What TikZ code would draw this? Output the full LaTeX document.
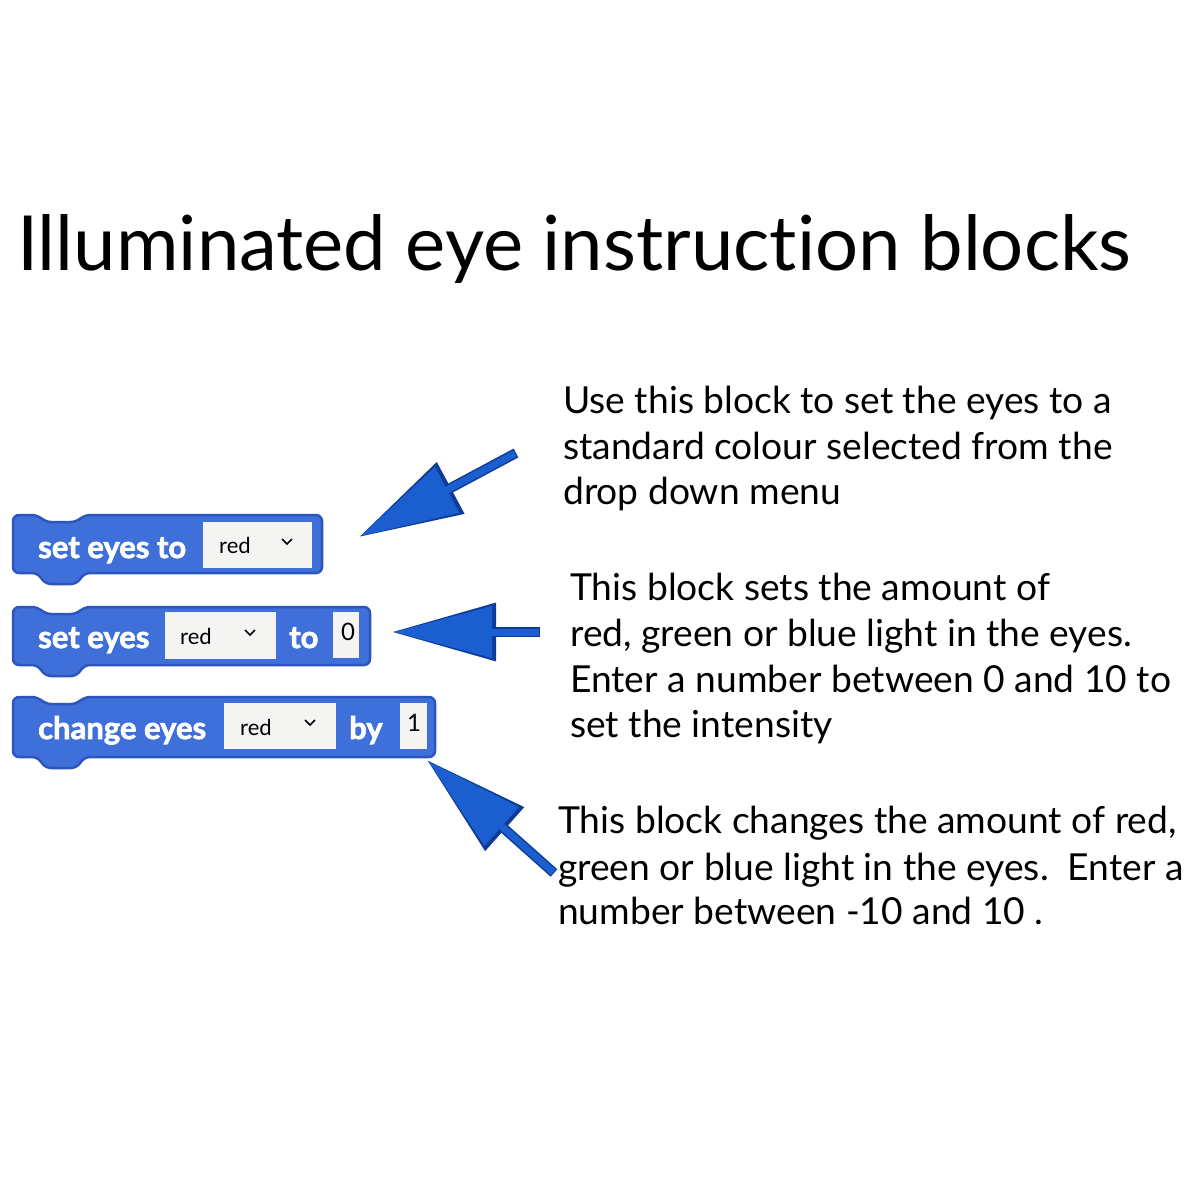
\documentclass[tikz,border=0pt]{standalone}
\usepackage{fontspec}
\setmainfont{Lato}[Ligatures=NoCommon]
\newfontfamily\blkfont{Lato}[FakeBold=2.2]
\usetikzlibrary{arrows.meta}
\definecolor{blkblue}{HTML}{3F6FD8}
\definecolor{blkedge}{HTML}{2C56BE}
\definecolor{arrblue}{HTML}{1A5ED0}
\definecolor{arrdark}{HTML}{0E3C94}
\definecolor{ddfill}{HTML}{F4F4F2}
\tikzset{
  title/.style={font=\fontsize{76}{90}\selectfont, anchor=base west, inner sep=0},
  desc/.style={font=\fontsize{37.2}{46}\selectfont, anchor=base west, inner sep=0},
  blklabel/.style={font=\blkfont\fontsize{31}{36}\selectfont\bfseries, text=white, anchor=base west, inner sep=0},
  ddlabel/.style={font=\fontsize{22}{26}\selectfont, text=black, anchor=base west, inner sep=0},
  numlabel/.style={font=\fontsize{24}{28}\selectfont, text=black, anchor=base west, inner sep=0},
  blockshape/.style={fill=blkblue, draw=blkedge, line width=2.5pt, rounded corners=6pt},
  ddbox/.style={fill=ddfill, draw=none},
  chev/.style={draw=black, line width=1.6pt},
  arrout/.style={draw=arrdark, line width=10pt, -{Triangle[length=104pt, width=56pt]}},
  arrin/.style={draw=arrblue, line width=7pt, -{Triangle[length=98pt, width=50pt]}},
}
\newcommand{\scrblock}[5]{% name, x0, top, x1, bot
  \path[blockshape] (#2,#3+20) -- (#2,#3) -- (#2+25,#3) -- (#2+32,#3+7) -- (#2+64,#3+7) -- (#2+71,#3)
    -- (#4,#3) -- (#4,#5) -- (#2+71,#5) -- (#2+64,#5+11) -- (#2+32,#5+11) -- (#2+25,#5) -- (#2,#5) -- cycle;
  \coordinate (#1) at (#4,{(#3+#5)/2});
}
\begin{document}
\begin{tikzpicture}[x=1pt,y=-1pt]
\useasboundingbox[fill=white] (0,0) rectangle (1200,1200);

\node[title] (ttl) at (17,270) {Illuminated eye instruction blocks};

% blocks
\scrblock{b1}{13}{515}{322}{573}
\scrblock{b2}{13}{607}{370}{665}
\scrblock{b3}{13}{697}{435}{757}

% block 1
\node[blklabel] (l1) at (38,558) {set eyes to};
\path[ddbox] (203,522) rectangle (312,568);
\node[ddlabel] (d1) at (219,553) {red};
\draw[chev] (282,539) -- (287,544) -- (292,539);

% block 2
\node[blklabel] (l2) at (38,648) {set eyes};
\path[ddbox] (165,612) rectangle (276,659);
\node[ddlabel] (d2) at (180,644) {red};
\draw[chev] (245,630) -- (250,635) -- (255,630);
\node[blklabel] (l2b) at (289,648) {to};
\path[ddbox] (333,612) rectangle (359,658);
\node[numlabel] (n2) at (341,640) {0};

% block 3
\node[blklabel] (l3) at (38,739) {change eyes};
\path[ddbox] (224,703) rectangle (336,749);
\node[ddlabel] (d3) at (240,735) {red};
\draw[chev] (305,720) -- (310,725) -- (315,720);
\node[blklabel] (l3b) at (349,739) {by};
\path[ddbox] (400,703) rectangle (427,749);
\node[numlabel] (n3) at (407,731) {1};

% descriptions
\node[desc] (p1a) at (563,413) {Use this block to set the eyes to a};
\node[desc] (p1b) at (563,459) {standard colour selected from the};
\node[desc] (p1c) at (563,504) {drop down menu};

\node[desc] (p2a) at (570,600) {This block sets the amount of};
\node[desc] (p2b) at (570,646) {red, green or blue light in the eyes.};
\node[desc] (p2c) at (570,692) {Enter a number between 0 and 10 to};
\node[desc] (p2d) at (570,737) {set the intensity};

\node[desc] (p3a) at (558,833) {This block changes the amount of red,};
\node[desc] (p3b) at (558,880) {green or blue light in the eyes.\ \ Enter a};
\node[desc] (p3c) at (558,924) {number between -10 and 10 .};

% arrows
\coordinate (t1) at (516,453); \coordinate (h1) at (359,537);
\coordinate (t2) at (540,632); \coordinate (h2) at (392,632);
\coordinate (t3) at (554,873); \coordinate (h3) at (427,760);
\foreach \a in {1,2,3} {
  \draw[arrout] (t\a) -- (h\a);
}
\foreach \a in {1,2,3} {
  \draw[arrin, shorten <=1pt, shorten >=2pt] (t\a) -- (h\a);
}
\end{tikzpicture}
\end{document}
